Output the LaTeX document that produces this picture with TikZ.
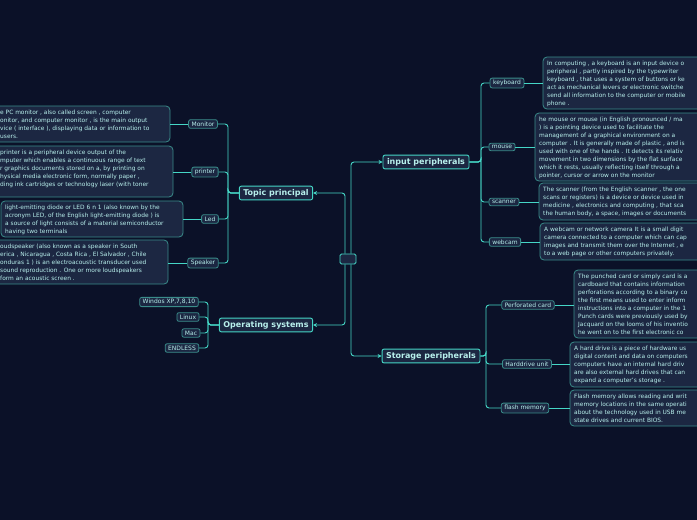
\documentclass[tikz,border=0pt]{standalone}
\usepackage{fontspec}
\setmainfont{DejaVu Sans}
\usetikzlibrary{arrows.meta}
\definecolor{bg}{HTML}{0B1128}
\definecolor{boxf}{HTML}{1C2742}
\definecolor{boxd}{HTML}{3A8C8A}
\definecolor{lin}{HTML}{45D6C6}
\definecolor{txt}{HTML}{B8F0EC}
\tikzset{
 main/.style={draw=lin,line width=0.9pt,fill=boxf,rounded corners=2pt,text=txt,font=\fontsize{8}{9}\selectfont\bfseries,inner xsep=4pt,inner ysep=3pt},
 leaf/.style={draw=boxd,line width=0.8pt,fill=boxf,rounded corners=2pt,text=txt,font=\fontsize{6}{6.5}\selectfont,inner xsep=3pt,inner ysep=2pt},
 desc/.style={draw=boxd,line width=0.8pt,fill=boxf,rounded corners=4pt},
 dtext/.style={anchor=north west,align=left,inner sep=0pt,text=txt,font=\fontsize{5.9}{8}\selectfont},
 conn/.style={draw=lin,line width=0.9pt,rounded corners=3pt},
 arr/.style={conn,-{Stealth[length=4pt,width=4pt]}}
}
\begin{document}
\begin{tikzpicture}[x=1pt,y=-1pt]
\fill[bg] (0,0) rectangle (697,520);
\clip (0,0) rectangle (697,520);
\newcommand{\dbox}[7]{\draw[desc] (#1,#2) rectangle (#3,#4); \node[dtext] (#5) at (#6,#2+4) {#7};}
\dbox{-8}{106}{170}{142}{dmon}{0}{e PC monitor , also called screen , computer\\onitor, and computer monitor , is the main output\\vice ( interface ), displaying data or information to\\ users.}
\dbox{-8}{146}{173}{197}{dpri}{0}{printer is a peripheral device output of the\\mputer which enables a continuous range of text\\r graphics documents stored on a, by printing on\\hysical media electronic form, normally paper ,\\ding ink cartridges or technology laser (with toner}
\dbox{1}{201}{183}{237}{dled}{5}{light-emitting diode or LED 6 n 1 (also known by the\\acronym LED, of the English light-emitting diode ) is\\a source of light consists of a material semiconductor\\having two terminals}
\dbox{-8}{240}{168}{284}{dspk}{0}{oudspeaker (also known as a speaker in South\\erica , Nicaragua , Costa Rica , El Salvador , Chile\\onduras 1 ) is an electroacoustic transducer used\\ sound reproduction . One or more loudspeakers\\ form an acoustic screen .}
\dbox{543}{57}{710}{109}{dkey}{547}{In computing , a keyboard is an input device o\\peripheral , partly inspired by the typewriter\\keyboard , that uses a system of buttons or ke\\act as mechanical levers or electronic switche\\send all information to the computer or mobile\\phone .}
\dbox{535}{113}{710}{181}{dmou}{539}{he mouse or mouse (in English pronounced / ma\\) is a pointing device used to facilitate the\\management of a graphical environment on a\\computer . It is generally made of plastic , and is\\used with one of the hands . It detects its relativ\\movement in two dimensions by the flat surface\\which it rests, usually reflecting itself through a\\pointer, cursor or arrow on the monitor}
\dbox{539}{183}{710}{220}{dsca}{543}{The scanner (from the English scanner , the one\\scans or registers) is a device or device used in\\medicine , electronics and computing , that sca\\the human body, a space, images or documents}
\dbox{540}{223}{710}{260}{dweb}{544}{A webcam or network camera It is a small digit\\camera connected to a computer which can cap\\images and transmit them over the Internet , e\\to a web page or other computers privately.}
\dbox{574}{270}{710}{338}{dper}{578}{The punched card or simply card is a\\cardboard that contains information\\perforations according to a binary co\\the first means used to enter inform\\instructions into a computer in the 1\\Punch cards were previously used by\\Jacquard on the looms of his inventio\\he went on to the first electronic co}
\dbox{570}{342}{710}{387}{dhar}{574}{A hard drive is a piece of hardware us\\digital content and data on computers\\computers have an internal hard driv\\are also external hard drives that can\\expand a computer's storage .}
\dbox{570}{390}{710}{426}{dfla}{574}{Flash memory allows reading and writ\\memory locations in the same operati\\about the technology used in USB me\\state drives and current BIOS.}
\node[draw=lin,line width=0.9pt,fill=boxf,rounded corners=1.5pt,minimum width=16pt,minimum height=10pt,inner sep=0pt] (c) at (348,259) {};
\node[main] (topic) at (276,193) {Topic principal};
\node[main] (os) at (266,325) {Operating systems};
\node[main] (inp) at (426,162) {input peripherals};
\node[main] (sto) at (431,356) {Storage peripherals};
\node[leaf] (mon) at (203,124) {Monitor};
\node[leaf] (pri) at (205,172) {printer};
\node[leaf] (led) at (210,219) {Led};
\node[leaf] (spk) at (203,263) {Speaker};
\node[leaf] (win) at (169,302) {Windos XP,7,8,10};
\node[leaf] (lin) at (188,317) {Linux};
\node[leaf] (mac) at (191,333) {Mac};
\node[leaf] (end) at (182,348) {ENDLESS};
\node[leaf] (key) at (507,83) {keyboard};
\node[leaf] (mou) at (502,147) {mouse};
\node[leaf] (sca) at (504,202) {scanner};
\node[leaf] (web) at (505,242) {webcam};
\node[leaf] (per) at (528,305) {Perforated card};
\node[leaf] (har) at (527,364) {Harddrive unit};
\node[leaf] (fla) at (525,408) {flash memory};
\draw[arr] (c.north -| 345,0) |- (topic.east);
\draw[arr] (c.south -| 345,0) |- (os.east);
\draw[arr] (c.north -| 351,0) |- (inp.west);
\draw[arr] (c.south -| 351,0) |- (sto.west);
\foreach \n in {mon,pri,led,spk}{\draw[conn] (topic.west) -| (228,193) |- (\n.east);}
\foreach \n in {win,lin,mac,end}{\draw[conn] (os.west) -| (208,325) |- (\n.east);}
\foreach \n in {key,mou,sca,web}{\draw[conn] (inp.east) -| (481,162) |- (\n.west);}
\foreach \n in {per,har,fla}{\draw[conn] (sto.east) -| (486,356) |- (\n.west);}
\draw[conn] (mon.west) -- (mon.west -| 170,0);
\draw[conn] (pri.west) -- (pri.west -| 173,0);
\draw[conn] (led.west) -- (led.west -| 183,0);
\draw[conn] (spk.west) -- (spk.west -| 168,0);
\draw[conn] (key.east) -- (key.east -| 543,0);
\draw[conn] (mou.east) -- (mou.east -| 535,0);
\draw[conn] (sca.east) -- (sca.east -| 539,0);
\draw[conn] (web.east) -- (web.east -| 540,0);
\draw[conn] (per.east) -- (per.east -| 574,0);
\draw[conn] (har.east) -- (har.east -| 570,0);
\draw[conn] (fla.east) -- (fla.east -| 570,0);
\end{tikzpicture}
\end{document}
